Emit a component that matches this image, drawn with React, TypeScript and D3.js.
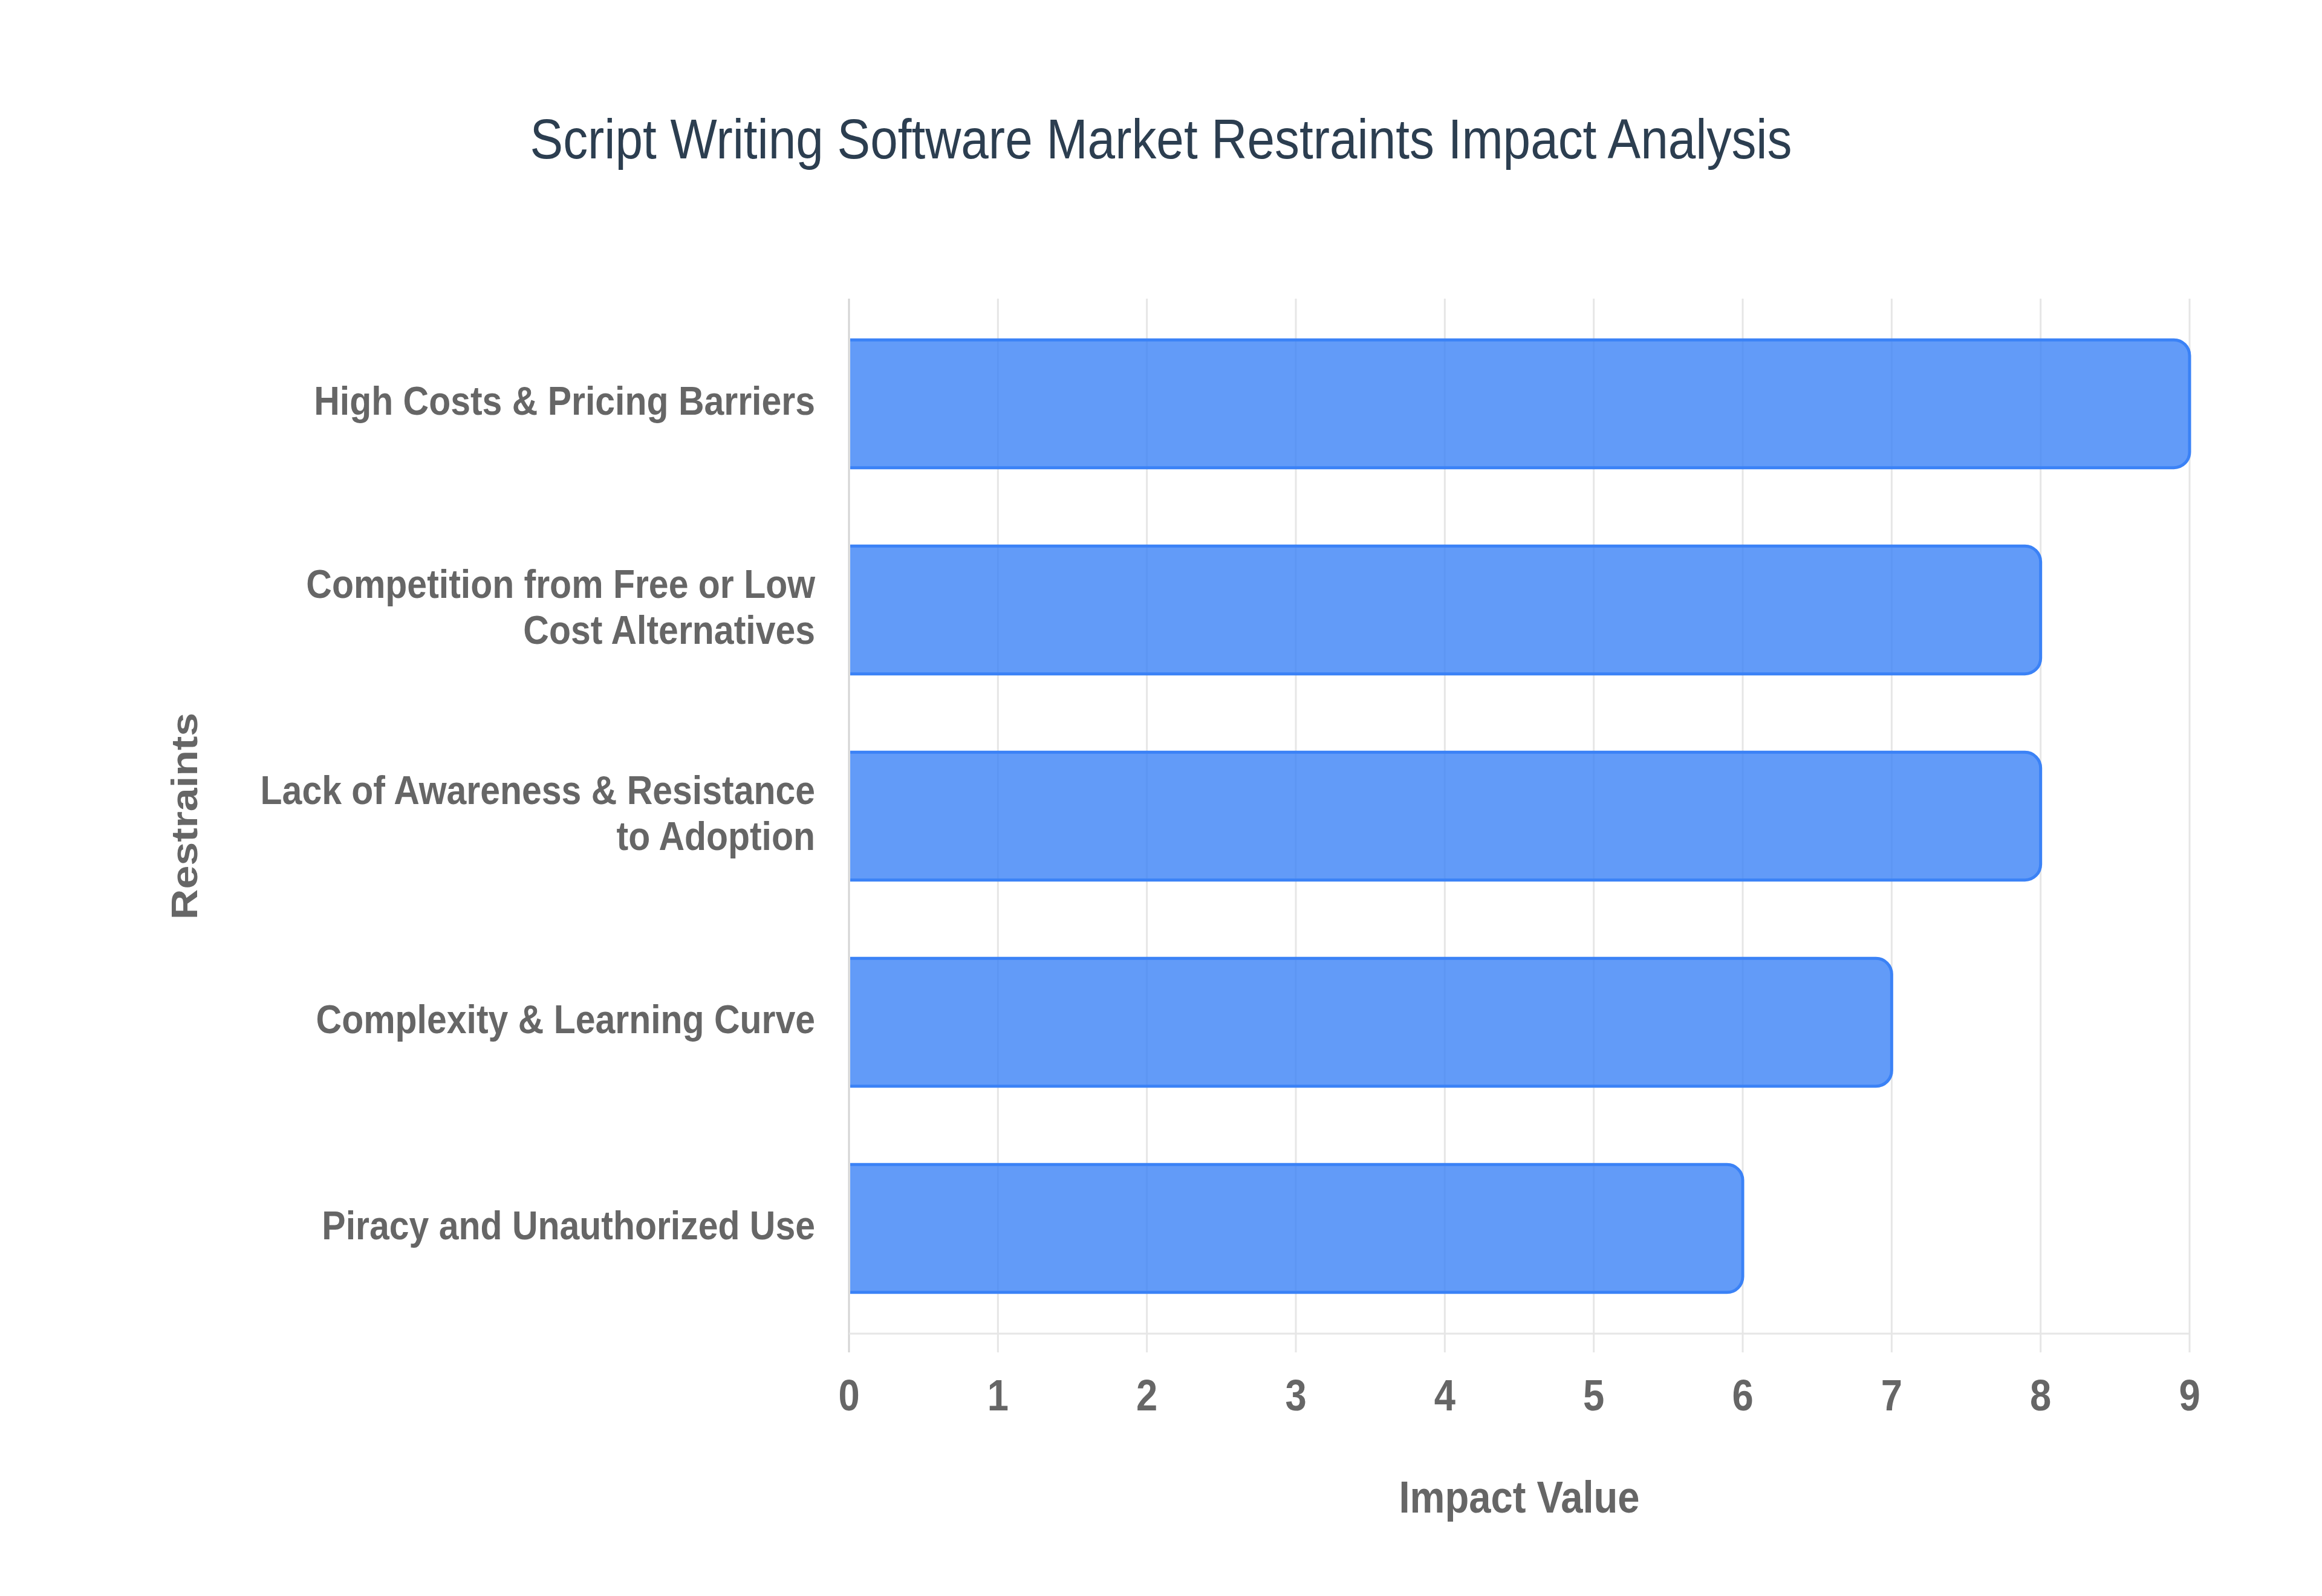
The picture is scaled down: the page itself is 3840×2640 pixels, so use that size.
import React, { useEffect, useRef } from "react";
import * as d3 from "d3";

const categories = [
  "High Costs & Pricing Barriers",
  "Competition from Free or Low Cost Alternatives",
  "Lack of Awareness & Resistance to Adoption",
  "Complexity & Learning Curve",
  "Piracy and Unauthorized Use",
];
// how each category label is broken into lines
const categoryLines = [
  ["High Costs & Pricing Barriers"],
  ["Competition from Free or Low", "Cost Alternatives"],
  ["Lack of Awareness & Resistance", "to Adoption"],
  ["Complexity & Learning Curve"],
  ["Piracy and Unauthorized Use"],
];
const impactValues = [9, 8, 8, 7, 6];
const xTicks = [0, 1, 2, 3, 4, 5, 6, 7, 8, 9];

const title = "Script Writing Software Market Restraints Impact Analysis";
const xTitle = "Impact Value";
const yTitle = "Restraints";

const W = 3840;
const H = 2640;
const SX = 0.88; // text in the reference is slightly narrowed

export default function App() {
  const ref = useRef<SVGSVGElement | null>(null);

  useEffect(() => {
    const svg = d3.select(ref.current);
    svg.selectAll("*").remove();

    const left = 1404,
      right = 3621,
      top = 494,
      bottom = 2206;

    const x = d3.scaleLinear().domain([0, 9]).range([left, right]);
    const y = d3
      .scaleBand()
      .domain(categories)
      .range([top, bottom])
      .paddingInner(0.38)
      .paddingOuter(0.2);

    svg.append("rect").attr("width", W).attr("height", H).attr("fill", "#ffffff");

    // title
    svg
      .append("text")
      .attr("transform", "translate(1920,262) scale(0.89,1)")
      .attr("text-anchor", "middle")
      .attr("font-family", "'Liberation Sans', Arial, sans-serif")
      .attr("font-size", 92)
      .attr("fill", "#2c3e50")
      .text(title);

    // vertical grid lines (with tick marks below the axis)
    svg
      .append("g")
      .selectAll("line")
      .data(xTicks)
      .enter()
      .append("line")
      .attr("x1", (d) => x(d))
      .attr("x2", (d) => x(d))
      .attr("y1", top)
      .attr("y2", bottom + 31)
      .attr("stroke", (d) => (d === 0 ? "#d4d4d4" : "#e6e6e6"))
      .attr("stroke-width", 3);

    // bottom axis line
    svg
      .append("line")
      .attr("x1", left)
      .attr("x2", right)
      .attr("y1", bottom)
      .attr("y2", bottom)
      .attr("stroke", "#e6e6e6")
      .attr("stroke-width", 3);

    // bars, rounded on the right, no border on the left
    const r = 26;
    const barPath = (v: number, cat: string) => {
      const x0 = x(0) + 2;
      const x1 = x(v);
      const y0 = y(cat)!;
      const y1 = y0 + y.bandwidth();
      const p = d3.path();
      p.moveTo(x0, y0);
      p.lineTo(x1 - r, y0);
      p.arcTo(x1, y0, x1, y0 + r, r);
      p.lineTo(x1, y1 - r);
      p.arcTo(x1, y1, x1 - r, y1, r);
      p.lineTo(x0, y1);
      return p.toString();
    };

    const bars = svg.append("g");
    bars
      .selectAll("path.fill")
      .data(impactValues)
      .enter()
      .append("path")
      .attr("class", "fill")
      .attr("d", (d, i) => barPath(d, categories[i]) + "Z")
      .attr("fill", "rgba(59,130,246,0.8)");
    bars
      .selectAll("path.edge")
      .data(impactValues)
      .enter()
      .append("path")
      .attr("class", "edge")
      .attr("d", (d, i) => barPath(d, categories[i]))
      .attr("fill", "none")
      .attr("stroke", "#3b82f6")
      .attr("stroke-width", 5);

    // x tick labels
    svg
      .append("g")
      .selectAll("text")
      .data(xTicks)
      .enter()
      .append("text")
      .attr("transform", (d) => "translate(" + x(d) + ",2333) scale(" + SX + ",1)")
      .attr("text-anchor", "middle")
      .attr("font-family", "'Liberation Sans', Arial, sans-serif")
      .attr("font-weight", "bold")
      .attr("font-size", 72)
      .attr("fill", "#666666")
      .text((d) => String(d));

    // category labels
    const lineH = 76;
    const labels = svg.append("g");
    categories.forEach((cat, i) => {
      const c = y(cat)! + y.bandwidth() / 2;
      const lines = categoryLines[i];
      const first = c + 18 - ((lines.length - 1) * lineH) / 2;
      lines.forEach((ln, j) => {
        labels
          .append("text")
          .attr("transform", "translate(1348," + (first + j * lineH) + ") scale(" + SX + ",1)")
          .attr("text-anchor", "end")
          .attr("font-family", "'Liberation Sans', Arial, sans-serif")
          .attr("font-weight", "bold")
          .attr("font-size", 67)
          .attr("fill", "#666666")
          .text(ln);
      });
    });

    // axis titles
    svg
      .append("text")
      .attr("transform", "translate(" + (left + right) / 2 + ",2502) scale(" + SX + ",1)")
      .attr("text-anchor", "middle")
      .attr("font-family", "'Liberation Sans', Arial, sans-serif")
      .attr("font-weight", "bold")
      .attr("font-size", 74)
      .attr("fill", "#666666")
      .text(xTitle);

    svg
      .append("text")
      .attr("transform", "translate(326," + (top + bottom) / 2 + ") scale(" + SX + ",1) rotate(-90)")
      .attr("text-anchor", "middle")
      .attr("font-family", "'Liberation Sans', Arial, sans-serif")
      .attr("font-weight", "bold")
      .attr("font-size", 70)
      .attr("fill", "#666666")
      .text(yTitle);
  }, []);

  return (
    <svg
      ref={ref}
      width={W}
      height={H}
      viewBox={"0 0 " + W + " " + H}
      style={{ position: "absolute", left: 0, top: 0, display: "block" }}
    />
  );
}
